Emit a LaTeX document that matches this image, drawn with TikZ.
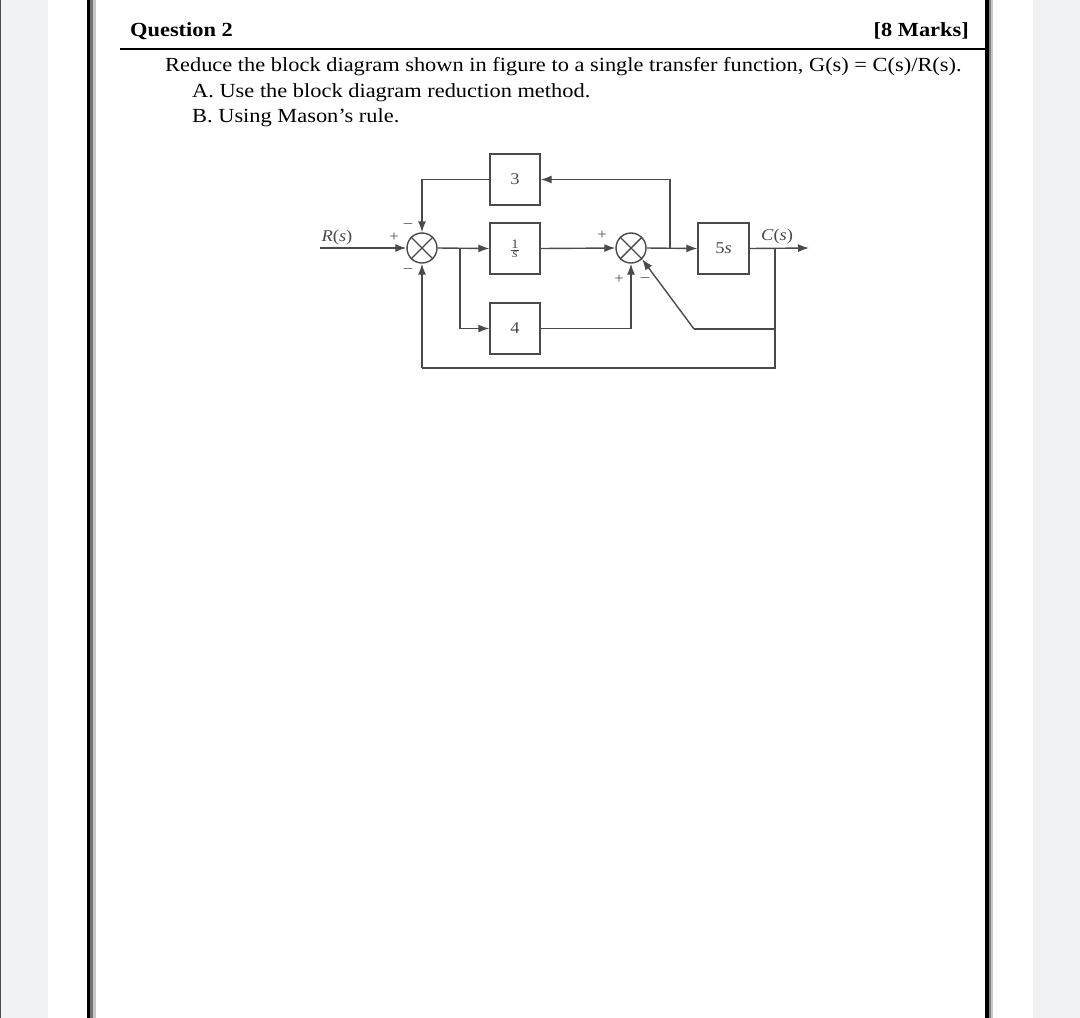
\documentclass[tikz,border=0pt]{standalone}
\usepackage{fontspec}
\setmainfont{Liberation Serif}
\newfontfamily\hdr[FakeStretch=1.12]{Liberation Serif}
\usetikzlibrary{arrows.meta,calc}
\definecolor{pagegray}{HTML}{F1F2F4}
\definecolor{lncol}{HTML}{4A4A4A}
\newcommand\hfont{\hdr\fontsize{20}{24}\selectfont}
\newcommand\dfont{\hdr\fontsize{16.5}{19}\selectfont}
\newcommand\ffont{\hdr\fontsize{13}{15}\selectfont}
\newcommand\sfont{\hdr\fontsize{15}{17}\selectfont}
\tikzset{
  ln/.style={draw=lncol, line width=1.4pt},
  arr/.style={ln, -{Latex[length=11pt,width=8pt]}},
  blk/.style={draw=lncol, line width=1.4pt, minimum width=50pt, minimum height=51pt, inner sep=0pt, font=\dfont, text=lncol},
  sumj/.style={draw=lncol, line width=1.4pt, circle, minimum size=30pt, inner sep=0pt},
  sgn/.style={font=\sfont, text=lncol, inner sep=0pt},
  lbl/.style={font=\dfont, text=lncol, inner sep=0pt},
  htext/.style={font=\hfont, inner sep=0pt, anchor=base west}
}
\begin{document}
\begin{tikzpicture}[x=1pt,y=-1pt]
\useasboundingbox (0,0) rectangle (1080,1018);
% page background
\fill[white] (0,0) rectangle (1080,1018);
\fill[pagegray] (0,0) rectangle (48,1018);
\fill[pagegray] (1033,0) rectangle (1080,1018);
\draw[black!70, line width=1pt] (0.5,0) -- (0.5,1018);
% page borders
\draw[black, line width=3pt] (88.5,0) -- (88.5,1018);
\draw[black!55, line width=3pt] (91.5,0) -- (91.5,1018);
\draw[black!22, line width=3pt] (94.8,0) -- (94.8,1018);
\draw[black, line width=4pt] (987,0) -- (987,1018);
\draw[black!50, line width=2pt] (990,0) -- (990,1018);
\draw[black!22, line width=2pt] (992.3,0) -- (992.3,1018);
\draw[black, line width=2.5pt] (120,49) -- (985,49);
% header text
\node[htext] (q) at (130,36) {\bfseries Question 2};
\node[htext, anchor=base east] (m) at (969,36) {\bfseries [8 Marks]};
\node[htext] (l1) at (165,71) {Reduce the block diagram shown in figure to a single transfer function, G(s) = C(s)/R(s).};
\node[htext] (l2) at (192,97) {A. Use the block diagram reduction method.};
\node[htext] (l3) at (192,122) {B. Using Mason’s rule.};
% diagram
\node[sumj] (s1) at (422,248) {};
\node[sumj] (s2) at (631,248) {};
\draw[ln] (s1.north west) -- (s1.south east) (s1.north east) -- (s1.south west);
\draw[ln] (s2.north west) -- (s2.south east) (s2.north east) -- (s2.south west);
\node[blk] (b3) at (515,179.5) {3};
\node[blk, font=\ffont] (b1) at (515,248.5) {$\frac{\mbox{1}}{\mbox{\itshape s}}$};
\node[blk] (b4) at (515,328.5) {4};
\node[blk, minimum width=51pt] (b5) at (723.5,248.5) {5\textit{s}};
\coordinate (rin) at (320,248);
\coordinate (br1) at (460,248);
\coordinate (br2) at (670,248);
\coordinate (br3) at (775,248);
\coordinate (out) at (809,248);
\coordinate (fb1) at (775,368);
\coordinate (fb2) at (422,368);
\coordinate (fd1) at (775,329);
\coordinate (fd2) at (694,329);
\draw[arr] (rin) -- (s1.west);
\draw[arr] (s1.east) -- (b1.west);
\draw[arr] (br1) |- (b4.west);
\draw[arr] (b1.east) -- (s2.west);
\draw[arr] (b4.east) -| (s2.south);
\draw[arr] (s2.east) -- (b5.west);
\draw[arr] (br2) |- (b3.east);
\draw[arr] (b3.west) -| (s1.north);
\draw[arr] (b5.east) -- (out);
\draw[ln] (br3) -- (fb1) -- (fb2);
\draw[arr] (fb2) -- (s1.south);
\draw[ln] (fd1) -- (fd2);
\draw[arr] (fd2) -- (s2.south east);
% labels
\node[lbl, anchor=base] (rl) at (337,241) {\textit{R}(\textit{s})};
\node[lbl, anchor=base] (cl) at (777,240) {\textit{C}(\textit{s})};
\node[sgn] (p1) at (394,237) {+};
\node[sgn] (m1) at (408,226) {\textendash};
\node[sgn] (m2) at (408,271) {\textendash};
\node[sgn] (p2) at (602,235) {+};
\node[sgn] (p3) at (619,279) {+};
\node[sgn] (m3) at (645,280) {\textendash};
\end{tikzpicture}
\end{document}
